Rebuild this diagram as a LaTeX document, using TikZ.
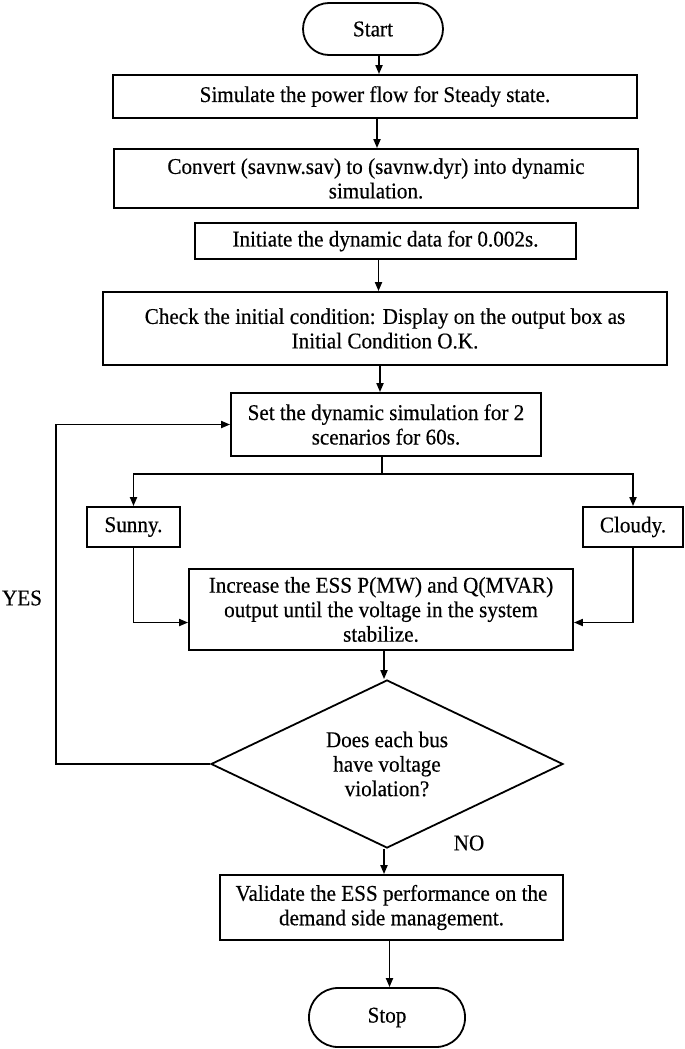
\documentclass[tikz,border=0pt]{standalone}
\usepackage{fontspec}
\setmainfont{Liberation Serif}[FakeStretch=0.94,FakeBold=0.4]
\usetikzlibrary{shapes.geometric,arrows.meta}
\begin{document}
\begin{tikzpicture}[x=1pt,y=-1pt,line width=1.8pt,
  txt/.style={font=\fontsize{22.5}{24.5}\selectfont},
  box/.style={draw,rectangle,align=center,inner sep=2pt,txt},
  term/.style={draw,rectangle,rounded corners=26pt,align=center,inner sep=2pt,txt},
  arr/.style={-{Triangle[length=9pt,width=7pt]}}]
\fill[white] (0,0) rectangle (685,1049);
\useasboundingbox (0,0) rectangle (685,1049);

\node[term,minimum width=140pt,minimum height=52pt] (start) at (373,29) {Start};
\node[box,minimum width=524pt,minimum height=43pt] (sim) at (375,96.5) {Simulate the power flow for Steady state.};
\node[box,minimum width=524pt,minimum height=59pt] (conv) at (376,178.5) {Convert (savnw.sav) to (savnw.dyr) into dynamic\\simulation.};
\node[box,minimum width=381pt,minimum height=36pt] (init) at (385.5,241) {Initiate the dynamic data for 0.002s.};
\node[box,minimum width=564pt,minimum height=73pt] (check) at (385,328.5) {Check the initial condition: Display on the output box as\\Initial Condition O.K.};
\node[box,minimum width=310pt,minimum height=63pt] (set) at (386,424.5) {Set the dynamic simulation for 2\\scenarios for 60s.};
\node[box,minimum width=93pt,minimum height=40pt] (sunny) at (133.5,527) {Sunny.};
\node[box,minimum width=100pt,minimum height=40pt] (cloudy) at (633,527) {Cloudy.};
\node[box,minimum width=384pt,minimum height=81pt] (inc) at (381,609.5) {Increase the ESS P(MW) and Q(MVAR)\\output until the voltage in the system\\stabilize.};
\node[draw,diamond,aspect=2.1,minimum width=352pt,minimum height=168pt,inner sep=0pt,align=center,txt] (dec) at (387,764) {Does each bus\\have voltage\\violation?};
\node[box,minimum width=343pt,minimum height=65pt] (valid) at (391.5,907.5) {Validate the ESS performance on the\\demand side management.};
\node[term,minimum width=156pt,minimum height=59pt,rounded corners=29pt] (stop) at (387,1017.5) {Stop};

\node[txt] (yes) at (22,598) {YES};
\node[txt] (no) at (469,843) {NO};

\draw[arr] ([xshift=6pt]start.south) -- ([xshift=6pt]start.south |- sim.north);
\draw[arr] ([xshift=2pt]sim.south) -- ([xshift=2pt]sim.south |- conv.north);
\draw[arr] ([xshift=-7pt]init.south) -- ([xshift=-7pt]init.south |- check.north);
\draw[arr] ([xshift=-5pt]check.south) -- ([xshift=-5pt]check.south |- set.north);
\coordinate (jn) at ([yshift=-17pt,xshift=-4pt]set.south);
\draw ([xshift=-4pt]set.south) -- (jn);
\draw[arr] (jn) -| (sunny.north);
\draw[arr] (jn) -| (cloudy.north);
\draw[arr] (sunny.south) |- ([yshift=-13pt]inc.west);
\draw[arr] (cloudy.south) |- ([yshift=-13pt]inc.east);
\draw[arr] ([xshift=3pt]inc.south) -- ([xshift=3pt]inc.south |- dec.north);
\coordinate (fb) at (56,0);
\draw[arr] (dec.west) -| (fb |- set.west) -- (set.west);
\draw[arr] ([xshift=-3pt]dec.south) -- ([xshift=-3pt]dec.south |- valid.north);
\draw[arr] ([xshift=-2pt]valid.south) -- ([xshift=-2pt]valid.south |- stop.north);
\end{tikzpicture}
\end{document}
